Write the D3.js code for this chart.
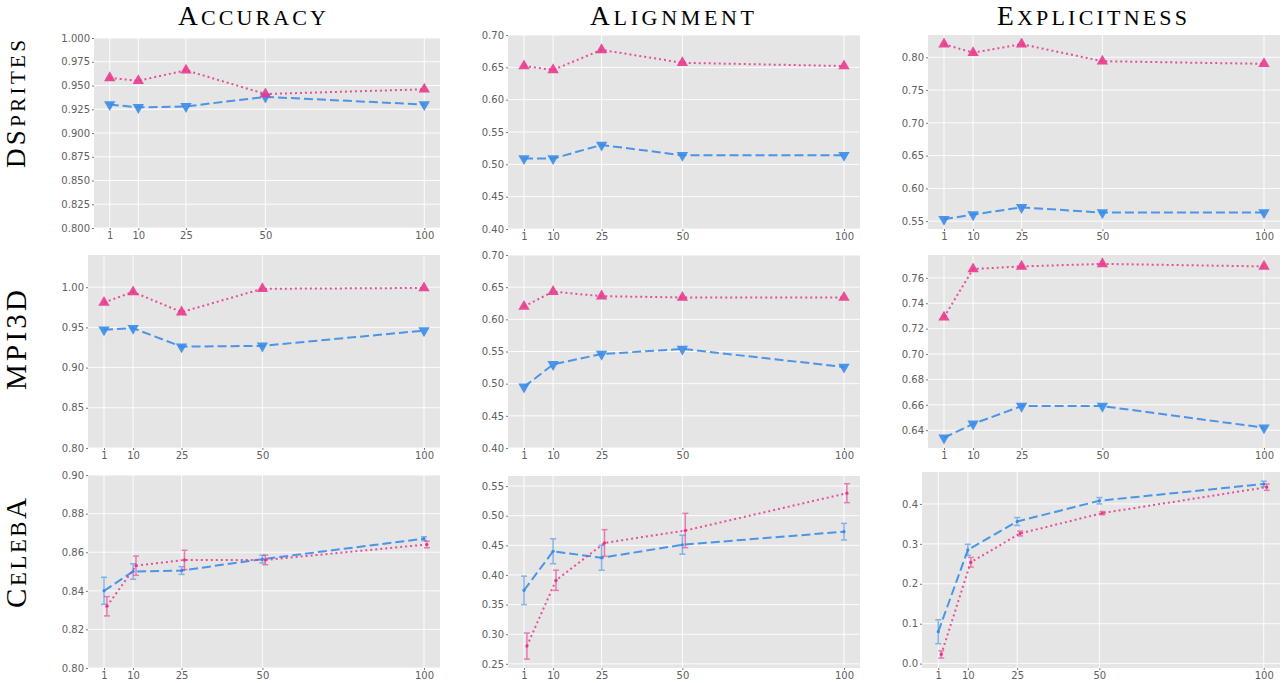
<!DOCTYPE html>
<html>
<head>
<meta charset="utf-8">
<script src="https://cdn.jsdelivr.net/npm/d3@7"></script>
<style>
  body { margin: 0; background: #fff; }
  .tick text { font-family: "DejaVu Sans", sans-serif; font-size: 10px; fill: #606060; }
  .tick line { stroke: #7a7a7a; }
  .domain { display: none; }
  .title { font-family: "Liberation Serif", serif; fill: #000; }
</style>
</head>
<body>
<svg id="fig" width="1285" height="683"></svg>
<script>
const sampleSizes = [1, 10, 25, 50, 100];
const datasets = ["DSprites", "MPI3D", "CelebA"];
const metrics = ["Accuracy", "Alignment", "Explicitness"];

// each array: accuracy, alignment, explicitness
const dspritesPink = [
  [0.958, 0.955, 0.966, 0.941, 0.946],
  [0.652, 0.646, 0.677, 0.657, 0.652],
  [0.820, 0.807, 0.820, 0.794, 0.790],
];
const dspritesBlue = [
  [0.930, 0.927, 0.928, 0.938, 0.930],
  [0.509, 0.509, 0.530, 0.514, 0.514],
  [0.553, 0.560, 0.571, 0.563, 0.563],
];
const mpi3dPink = [
  [0.981, 0.994, 0.969, 0.998, 0.999],
  [0.620, 0.643, 0.636, 0.634, 0.634],
  [0.729, 0.767, 0.769, 0.771, 0.769],
];
const mpi3dBlue = [
  [0.947, 0.949, 0.926, 0.927, 0.946],
  [0.495, 0.530, 0.546, 0.554, 0.526],
  [0.634, 0.645, 0.659, 0.659, 0.642],
];
const celebaPink = [
  [0.832, 0.853, 0.856, 0.856, 0.864],
  [0.280, 0.391, 0.454, 0.475, 0.538],
  [0.023, 0.254, 0.326, 0.377, 0.442],
];
const celebaPinkErr = [
  [0.005, 0.005, 0.005, 0.0025, 0.0017],
  [0.022, 0.017, 0.0225, 0.029, 0.016],
  [0.009, 0.012, 0.006, 0.004, 0.008],
];
const celebaBlue = [
  [0.840, 0.850, 0.8505, 0.8564, 0.867],
  [0.374, 0.440, 0.429, 0.451, 0.473],
  [0.080, 0.285, 0.356, 0.408, 0.450],
];
const celebaBlueErr = [
  [0.007, 0.004, 0.002, 0.002, 0.001],
  [0.024, 0.021, 0.021, 0.016, 0.014],
  [0.030, 0.014, 0.010, 0.008, 0.007],
];

// y limits and ticks per panel, row by row
const yDomains = [
  [0.8, 1.0], [0.4, 0.7], [0.538, 0.834],
  [0.8, 1.04], [0.4, 0.7], [0.626, 0.778],
  [0.8, 0.9], [0.243, 0.567], [-0.011, 0.48],
];
const yTicks = [
  [0.8, 0.825, 0.85, 0.875, 0.9, 0.925, 0.95, 0.975, 1.0],
  [0.4, 0.45, 0.5, 0.55, 0.6, 0.65, 0.7],
  [0.55, 0.6, 0.65, 0.7, 0.75, 0.8],
  [0.8, 0.85, 0.9, 0.95, 1.0],
  [0.4, 0.45, 0.5, 0.55, 0.6, 0.65, 0.7],
  [0.64, 0.66, 0.68, 0.7, 0.72, 0.74, 0.76],
  [0.8, 0.82, 0.84, 0.86, 0.88, 0.9],
  [0.25, 0.3, 0.35, 0.4, 0.45, 0.5, 0.55],
  [0.0, 0.1, 0.2, 0.3, 0.4],
];
const yFormats = [".3f", ".2f", ".2f", ".2f", ".2f", ".2f", ".2f", ".2f", ".1f"];
const pinkShift = 0.9; // the pink error bars are drawn a little to the right

const pinkSeries = [dspritesPink, mpi3dPink, celebaPink];
const blueSeries = [dspritesBlue, mpi3dBlue, celebaBlue];

// panel boxes [left, right, top, bottom]
const boxes = [
  [94, 440, 38, 228], [508, 860, 35, 229], [928, 1280, 35, 229],
  [88, 440, 255, 448], [508, 860, 255, 448], [928, 1280, 255, 448],
  [88, 440, 475, 668], [508, 860, 476, 668], [922, 1280, 472, 668],
];

const pink = "#e8358a", blue = "#3a8ce8";
const svg = d3.select("#fig");

function smallCaps(t, str, size, small, target) {
  // LaTeX-like small caps: capitals full size, lower case as smaller capitals
  let runs = [];
  for (const ch of str) {
    const up = ch === ch.toUpperCase();
    if (runs.length && runs[runs.length - 1].up === up) runs[runs.length - 1].s += ch;
    else runs.push({ up: up, s: ch });
  }
  runs.forEach(r => {
    t.append("tspan")
      .attr("font-size", r.up ? size : size * small)
      .text(r.s.toUpperCase());
  });
  // spread letters to the width the reference shows
  const natural = t.node().getComputedTextLength();
  const n = str.length;
  const ls = Math.max(0, (target - natural) / (n - 1));
  t.attr("letter-spacing", ls);
  // letter-spacing also pads after the last glyph; shift back to stay centred
  t.attr("dx", ls / 2);
}

// column titles
const colCenters = [252, 672, 1092];
const colWidths = [148, 164, 190];
metrics.forEach((m, i) => {
  const t = svg.append("text").attr("class", "title")
    .attr("x", colCenters[i]).attr("y", 25)
    .attr("text-anchor", "middle");
  smallCaps(t, m, 27.5, 0.8, colWidths[i]);
});

// row titles
const rowCenters = [104, 340, 553];
const rowLengths = [128, 100, 110];
const rowSizes = [27, 29, 29];
const rowBase = [25, 26, 26];
datasets.forEach((d, i) => {
  const t = svg.append("text").attr("class", "title")
    .attr("transform", `translate(${rowBase[i]},${rowCenters[i]}) rotate(-90)`)
    .attr("text-anchor", "middle");
  smallCaps(t, d, rowSizes[i], 0.78, rowLengths[i]);
});

const triUp = d3.symbol().type(d3.symbolTriangle).size(56);

for (let r = 0; r < 3; r++) {
  for (let c = 0; c < 3; c++) {
    const k = r * 3 + c;
    const [x0, x1, y0, y1] = boxes[k];
    const pad = (100 - 1) * 0.05;
    const x = d3.scaleLinear().domain([1 - pad, 100 + pad]).range([x0, x1]);
    const y = d3.scaleLinear().domain(yDomains[k]).range([y1, y0]);

    const g = svg.append("g");
    g.append("rect").attr("x", x0).attr("y", y0)
      .attr("width", x1 - x0).attr("height", y1 - y0)
      .attr("fill", "#e5e5e5");

    // grid
    g.selectAll(".gy").data(yTicks[k]).join("line")
      .attr("x1", x0).attr("x2", x1)
      .attr("y1", d => y(d)).attr("y2", d => y(d))
      .attr("stroke", "#fff").attr("stroke-width", 0.9);
    g.selectAll(".gx").data(sampleSizes).join("line")
      .attr("x1", d => x(d)).attr("x2", d => x(d))
      .attr("y1", y0).attr("y2", y1)
      .attr("stroke", "#fff").attr("stroke-width", 0.9);

    g.append("g").attr("transform", `translate(0,${y1})`)
      .call(d3.axisBottom(x).tickValues(sampleSizes).tickFormat(d3.format("d"))
        .tickSize(2).tickPadding(2));
    g.append("g").attr("transform", `translate(${x0},0)`)
      .call(d3.axisLeft(y).tickValues(yTicks[k]).tickFormat(d3.format(yFormats[k]))
        .tickSize(2).tickPadding(2));

    const pinkVals = pinkSeries[r][c], blueVals = blueSeries[r][c];
    const shift = r === 2 ? pinkShift : 0;
    const bluePts = sampleSizes.map((n, i) => ({ n: n, v: blueVals[i], e: r === 2 ? celebaBlueErr[c][i] : 0 }));
    const pinkPts = sampleSizes.map((n, i) => ({ n: n + shift, v: pinkVals[i], e: r === 2 ? celebaPinkErr[c][i] : 0 }));

    const line = d3.line().x(d => x(d.n)).y(d => y(d.v));

    g.append("path").datum(bluePts).attr("d", line)
      .attr("fill", "none").attr("stroke", blue).attr("stroke-width", 2)
      .attr("stroke-dasharray", "9,4").attr("opacity", 0.9);
    g.append("path").datum(pinkPts).attr("d", line)
      .attr("fill", "none").attr("stroke", pink).attr("stroke-width", 2)
      .attr("stroke-dasharray", "2,3").attr("opacity", 0.85);

    if (r < 2) {
      g.selectAll(".mb").data(bluePts).join("path")
        .attr("d", triUp)
        .attr("transform", d => `translate(${x(d.n)},${y(d.v)}) rotate(180)`)
        .attr("fill", blue).attr("opacity", 0.9);
      g.selectAll(".mp").data(pinkPts).join("path")
        .attr("d", triUp)
        .attr("transform", d => `translate(${x(d.n)},${y(d.v)})`)
        .attr("fill", pink).attr("opacity", 0.88);
    } else {
      [[bluePts, blue], [pinkPts, pink]].forEach(([pts, col]) => {
        const eb = g.append("g").attr("stroke", col).attr("stroke-width", 1.5).attr("opacity", 0.6);
        eb.selectAll(".v").data(pts).join("line")
          .attr("x1", d => x(d.n)).attr("x2", d => x(d.n))
          .attr("y1", d => y(d.v - d.e)).attr("y2", d => y(d.v + d.e));
        eb.selectAll(".lo").data(pts).join("line")
          .attr("x1", d => x(d.n) - 3).attr("x2", d => x(d.n) + 3)
          .attr("y1", d => y(d.v - d.e)).attr("y2", d => y(d.v - d.e));
        eb.selectAll(".hi").data(pts).join("line")
          .attr("x1", d => x(d.n) - 3).attr("x2", d => x(d.n) + 3)
          .attr("y1", d => y(d.v + d.e)).attr("y2", d => y(d.v + d.e));
        g.selectAll(".dot" + col.slice(1)).data(pts).join("circle")
          .attr("cx", d => x(d.n)).attr("cy", d => y(d.v)).attr("r", 1.6)
          .attr("fill", col);
      });
    }
  }
}
</script>
</body>
</html>
